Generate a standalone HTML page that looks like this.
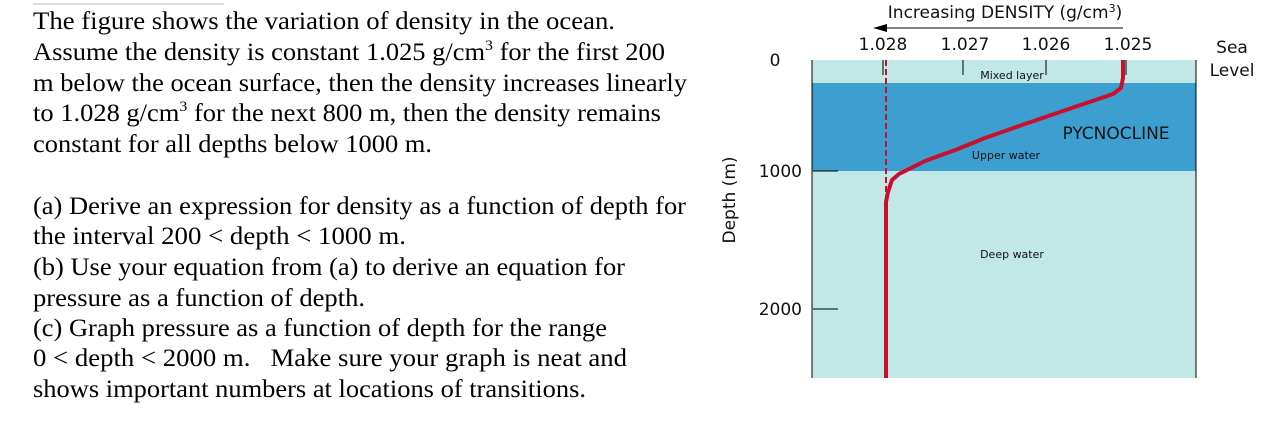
<!DOCTYPE html>
<html><head><meta charset="utf-8"><style>
html,body{margin:0;padding:0;background:#fff;width:1275px;height:435px;overflow:hidden}
svg{display:block}
.t{font-family:"Liberation Serif",serif;font-size:25px;fill:#000}
.s{font-family:"DejaVu Sans","Liberation Sans",sans-serif;fill:#111}
</style></head><body>
<svg width="1275" height="435" viewBox="0 0 1275 435">
<line x1="33" y1="4" x2="224" y2="4" stroke="#bbb" stroke-width="1"/>
<g class="t">
<text x="33" y="29" textLength="582" lengthAdjust="spacingAndGlyphs">The figure shows the variation of density in the ocean.</text>
<text x="33" y="60" textLength="632" lengthAdjust="spacingAndGlyphs">Assume the density is constant 1.025 g/cm<tspan dy="-10" font-size="15">3</tspan><tspan dy="10"> for the first 200</tspan></text>
<text x="33" y="91" textLength="654" lengthAdjust="spacingAndGlyphs">m below the ocean surface, then the density increases linearly</text>
<text x="33" y="121" textLength="628" lengthAdjust="spacingAndGlyphs">to 1.028 g/cm<tspan dy="-10" font-size="15">3</tspan><tspan dy="10"> for the next 800 m, then the density remains</tspan></text>
<text x="33" y="152" textLength="399" lengthAdjust="spacingAndGlyphs">constant for all depths below 1000 m.</text>
<text x="33" y="214" textLength="653" lengthAdjust="spacingAndGlyphs">(a) Derive an expression for density as a function of depth for</text>
<text x="33" y="244" textLength="373" lengthAdjust="spacingAndGlyphs">the interval 200 &lt; depth &lt; 1000 m.</text>
<text x="33" y="275" textLength="592" lengthAdjust="spacingAndGlyphs">(b) Use your equation from (a) to derive an equation for</text>
<text x="33" y="306" textLength="332" lengthAdjust="spacingAndGlyphs">pressure as a function of depth.</text>
<text x="33" y="336" textLength="574" lengthAdjust="spacingAndGlyphs">(c) Graph pressure as a function of depth for the range</text>
<text x="33" y="366" textLength="594" lengthAdjust="spacingAndGlyphs">0 &lt; depth &lt; 2000 m.&#160;&#160;&#160;Make sure your graph is neat and</text>
<text x="33" y="397" textLength="553" lengthAdjust="spacingAndGlyphs">shows important numbers at locations of transitions.</text>
</g>
<rect x="812" y="60" width="384" height="318" fill="#c2e7e7"/>
<rect x="812" y="83" width="384" height="88" fill="#3d9fcf"/>
<line x1="812" y1="60" x2="812" y2="378" stroke="#000" stroke-width="1"/>
<line x1="1196" y1="60" x2="1196" y2="378" stroke="#000" stroke-width="1"/>
<g stroke="#000" stroke-width="1">
<line x1="883" y1="60" x2="883" y2="75"/>
<line x1="963" y1="60" x2="963" y2="75"/>
<line x1="1046" y1="60" x2="1046" y2="75"/>
<line x1="1126" y1="60" x2="1126" y2="75"/>
<line x1="813" y1="171" x2="838" y2="171"/>
<line x1="813" y1="309" x2="838" y2="309"/>
<line x1="1123" y1="28" x2="880" y2="28"/>
</g>
<polygon points="873,28 887,24 887,32" fill="#000"/>
<line x1="886" y1="60" x2="886" y2="200" stroke="#c8102e" stroke-width="2" stroke-dasharray="6,3"/>
<polyline points="1123,60 1123,78 1121,88 1113,94 1060,112 1025,124 985,138 958,149 925,161 899,174 892,180 888,192 886,202 886,378" fill="none" stroke="#c8102e" stroke-width="4" stroke-linejoin="round"/>
<g class="s">
<text x="1005" y="18" font-size="17" text-anchor="middle">Increasing DENSITY (g/cm<tspan dy="-6" font-size="11">3</tspan><tspan dy="6">)</tspan></text>
<text x="883" y="50" font-size="17" text-anchor="middle">1.028</text>
<text x="965" y="50" font-size="17" text-anchor="middle">1.027</text>
<text x="1046" y="50" font-size="17" text-anchor="middle">1.026</text>
<text x="1128" y="50" font-size="17" text-anchor="middle">1.025</text>
<text x="1232" y="53" font-size="17" text-anchor="middle">Sea</text>
<text x="1232" y="76" font-size="17" text-anchor="middle">Level</text>
<text x="775" y="66" font-size="17" text-anchor="middle">0</text>
<text x="802" y="177" font-size="17" text-anchor="end">1000</text>
<text x="802" y="315" font-size="17" text-anchor="end">2000</text>
<text transform="translate(735,200) rotate(-90)" font-size="17" text-anchor="middle">Depth (m)</text>
<text x="1012" y="79" font-size="11" text-anchor="middle">Mixed layer</text>
<text x="1116" y="139" font-size="17" text-anchor="middle">PYCNOCLINE</text>
<text x="1006" y="159" font-size="11" text-anchor="middle">Upper water</text>
<text x="1012" y="258" font-size="11" text-anchor="middle">Deep water</text>
</g>
</svg>
</body></html>
